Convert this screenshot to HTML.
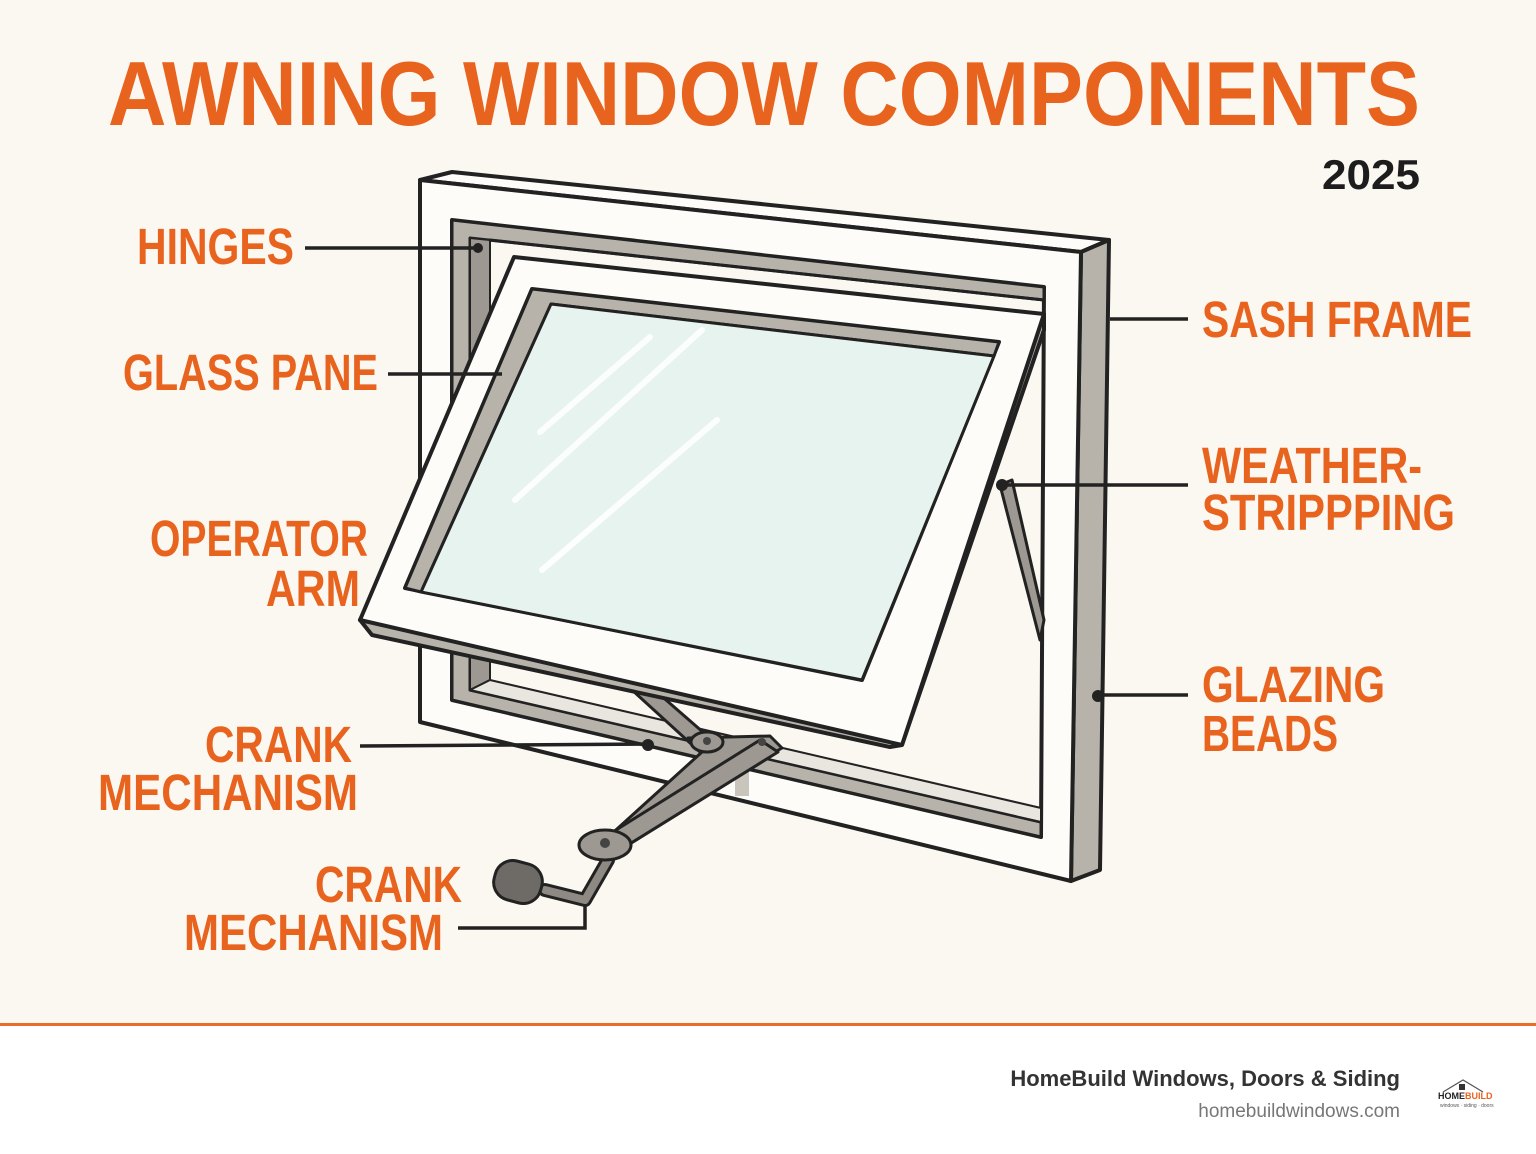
<!DOCTYPE html>
<html><head><meta charset="utf-8"><style>
html,body{margin:0;padding:0;}
body{width:1536px;height:1154px;background:#fbf7f1;overflow:hidden;}
svg{display:block;}
</style></head><body>
<svg width="1536" height="1154" viewBox="0 0 1536 1154" xmlns="http://www.w3.org/2000/svg">
<rect x="0" y="0" width="1536" height="1025" fill="#fbf7f1"/>
<rect x="0" y="1025" width="1536" height="129" fill="#ffffff"/>
<rect x="0" y="1023" width="1536" height="3" fill="#ec6a2a"/>

<g font-family="Liberation Sans, sans-serif" font-weight="bold" fill="#e8631e">
<text x="108" y="125" font-size="91" textLength="1312" lengthAdjust="spacingAndGlyphs">AWNING WINDOW COMPONENTS</text>
<g font-size="51">
<text x="137" y="264" textLength="157" lengthAdjust="spacingAndGlyphs">HINGES</text>
<text x="123" y="390" textLength="255" lengthAdjust="spacingAndGlyphs">GLASS PANE</text>
<text x="150" y="556" textLength="218" lengthAdjust="spacingAndGlyphs">OPERATOR</text>
<text x="266" y="606" textLength="94" lengthAdjust="spacingAndGlyphs">ARM</text>
<text x="205" y="762" textLength="147" lengthAdjust="spacingAndGlyphs">CRANK</text>
<text x="98" y="810" textLength="260" lengthAdjust="spacingAndGlyphs">MECHANISM</text>
<text x="315" y="902" textLength="147" lengthAdjust="spacingAndGlyphs">CRANK</text>
<text x="184" y="950" textLength="259" lengthAdjust="spacingAndGlyphs">MECHANISM</text>
<text x="1202" y="337" textLength="270" lengthAdjust="spacingAndGlyphs">SASH FRAME</text>
<text x="1202" y="483" textLength="220" lengthAdjust="spacingAndGlyphs">WEATHER-</text>
<text x="1202" y="530" textLength="253" lengthAdjust="spacingAndGlyphs">STRIPPPING</text>
<text x="1202" y="702" textLength="183" lengthAdjust="spacingAndGlyphs">GLAZING</text>
<text x="1202" y="751" textLength="136" lengthAdjust="spacingAndGlyphs">BEADS</text>
</g>
</g>
<text x="1322" y="189" font-family="Liberation Sans, sans-serif" font-weight="bold" font-size="42" fill="#1d1d1d" textLength="98" lengthAdjust="spacingAndGlyphs">2025</text>

<g stroke="#222" stroke-width="4" stroke-linejoin="round" stroke-linecap="round">
<!-- outer frame side -->
<polygon points="420,180 452,172 1109,240 1081,252" fill="#fdfcf9"/>
<polygon points="1081,252 1109,240 1100,870 1071,881" fill="#b7b3ab"/>
<!-- outer frame front -->
<path d="M420,180 L1081,252 L1071,881 L420,722 Z M452,220 L452,700 L1041,837 L1044,287 Z" fill="#fdfcf9" fill-rule="evenodd"/>
<!-- opening inner (reveal) -->
<polygon points="452,220 1044,287 1044,300 470,238 470,690 1041,822 1041,837 452,700" fill="#b7b3ab" stroke-width="3"/>
<polygon points="470,238 490,240 490,680 470,690" fill="#9d9992" stroke-width="2"/>
<line x1="470" y1="690" x2="1041" y2="822" stroke-width="3"/>
<polygon points="470,690 490,680 1041,808 1041,822" fill="#e9e6e0" stroke-width="2"/>
<line x1="490" y1="240" x2="1044" y2="300" stroke-width="3"/>
<!-- stay arm right -->
<polygon points="1000,485 1012,480 1044,620 1040,640" fill="#9d9992" stroke-width="3"/>
<!-- operator arm under sash -->
<polygon points="632,690 650,686 712,740 700,752" fill="#9d9992" stroke-width="3"/>
<rect x="735" y="760" width="14" height="36" fill="#c9c5bd" stroke="none"/>
<!-- sash thickness -->
<polygon points="360,620 372,635 890,747 902,745 1044,330 1044,314" fill="#b7b3ab"/>
<!-- sash front -->
<path d="M514,257 L1044,314 L902,745 L360,620 Z M532,289 L999,342 L862,680 L405,588 Z" fill="#fdfcf9" fill-rule="evenodd"/>
<!-- glazing bead -->
<polygon points="532,289 999,342 994,356 551,304 421,592 405,588" fill="#b7b3ab" stroke-width="3"/>
<!-- glass -->
<polygon points="551,304 994,356 862,680 421,592" fill="#e6f3ef" stroke-width="3"/>
</g>
<!-- glass highlights -->
<g stroke="#ffffff" stroke-width="6" stroke-linecap="round" opacity="0.9" fill="none">
<line x1="540" y1="432" x2="650" y2="337"/>
<line x1="515" y1="500" x2="702" y2="330"/>
<line x1="542" y1="570" x2="717" y2="420"/>
</g>
<!-- crank arm -->
<g stroke="#222" stroke-width="4" stroke-linejoin="round" stroke-linecap="round">
<polygon points="596,848 620,840 782,748 770,736 688,738 702,752" fill="#9d9992" stroke-width="3"/>
<polygon points="600,840 760,740 778,752 620,850" fill="#9d9992" stroke-width="3"/>
<ellipse cx="707" cy="742" rx="16" ry="10" fill="#9d9992" stroke-width="3"/>
<circle cx="707" cy="741" r="4" fill="#444" stroke="none"/>
<circle cx="762" cy="742" r="4" fill="#444" stroke="none"/>
<path d="M608,860 L585,900 L545,890" fill="none" stroke="#222" stroke-width="14"/>
<path d="M608,860 L585,900 L545,890" fill="none" stroke="#8e8a83" stroke-width="8"/>
<ellipse cx="605" cy="845" rx="26" ry="15" fill="#9d9992" stroke-width="3"/>
<circle cx="605" cy="843" r="5" fill="#444" stroke="none"/>
<rect x="494" y="862" width="48" height="40" rx="18" transform="rotate(15 518 882)" fill="#6e6b66" stroke-width="3"/>
</g>

<!-- leader lines -->
<g stroke="#222" stroke-width="3.5" fill="none">
<line x1="305" y1="248" x2="478" y2="248"/>
<line x1="388" y1="374" x2="502" y2="374"/>
<line x1="360" y1="746" x2="648" y2="744"/>
<polyline points="458,928 585,928 585,905"/>
<line x1="1110" y1="319" x2="1188" y2="319"/>
<line x1="1002" y1="485" x2="1188" y2="485"/>
<line x1="1098" y1="695" x2="1188" y2="695"/>
</g>
<g fill="#222">
<circle cx="478" cy="248" r="5"/>
<circle cx="648" cy="745" r="6"/>
<circle cx="1002" cy="485" r="6"/>
<circle cx="1098" cy="696" r="6"/>
</g>

<!-- footer -->
<text x="1400" y="1086" text-anchor="end" font-family="Liberation Sans, sans-serif" font-weight="bold" font-size="22" fill="#333">HomeBuild Windows, Doors &amp; Siding</text>
<text x="1400" y="1117" text-anchor="end" font-family="Liberation Sans, sans-serif" font-size="19" fill="#777">homebuildwindows.com</text>
<g transform="translate(1437,1076)">
<polyline points="6,16 26,4 46,16" fill="none" stroke="#555" stroke-width="1.2"/>
<rect x="22" y="8" width="6" height="6" fill="#333"/>
<text x="1" y="23" font-family="Liberation Sans, sans-serif" font-weight="bold" font-size="9" fill="#222">HOME<tspan fill="#e8631e">BUILD</tspan></text>
<text x="3" y="31" font-family="Liberation Sans, sans-serif" font-size="5" fill="#555">windows · siding · doors</text>
</g>
</svg>
</body></html>
